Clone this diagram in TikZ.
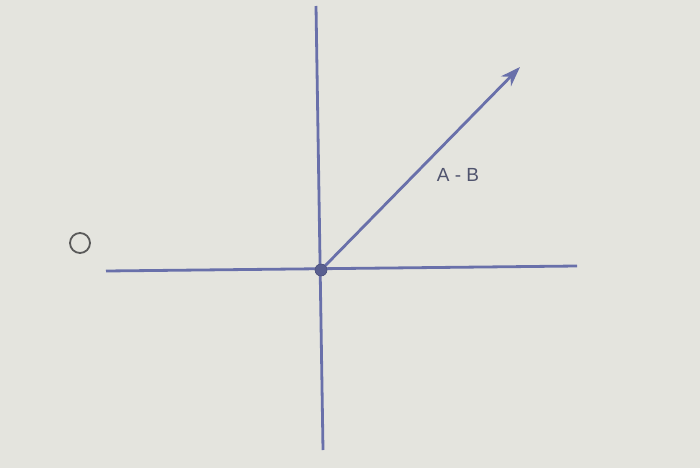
\documentclass[tikz,border=0pt]{standalone}
\usepackage{fontspec}
\setmainfont{Liberation Sans}
\usetikzlibrary{arrows.meta}
\definecolor{bg}{RGB}{228,228,222}
\definecolor{axis}{RGB}{105,112,170}
\definecolor{txt}{RGB}{80,84,110}
\tikzset{
  axisline/.style={draw=axis, line width=2.8pt},
  vec/.style={draw=axis, line width=2.8pt, -{Stealth[length=20pt,width=14pt]}},
  lbl/.style={text=txt, font=\fontsize{19}{22}\selectfont, inner sep=0pt},
  radio/.style={draw=black!65, line width=1.8pt, circle, minimum size=20pt, inner sep=0pt},
  origin/.style={circle, fill=axis!85!black, draw=axis!70!black, minimum size=12pt, inner sep=0pt}
}
\begin{document}
\begin{tikzpicture}[x=1pt,y=-1pt]
\fill[bg] (0,0) rectangle (700,468);
\useasboundingbox (0,0) rectangle (700,468);
\coordinate (top) at (316,6);
\coordinate (bot) at (323,450);
\coordinate (left) at (106,271);
\coordinate (right) at (577,266);
\coordinate (tip) at (520,67);
\node[origin] (o) at (321,270) {};
\draw[axisline] (top) -- (bot);
\draw[axisline] (left) -- (right);
\draw[vec] (o.center) -- (tip);
\node[origin] at (321,270) {};
\node[lbl] (ab) at (458,175) {A - B};
\node[radio] (r) at (80,243) {};
\end{tikzpicture}
\end{document}
